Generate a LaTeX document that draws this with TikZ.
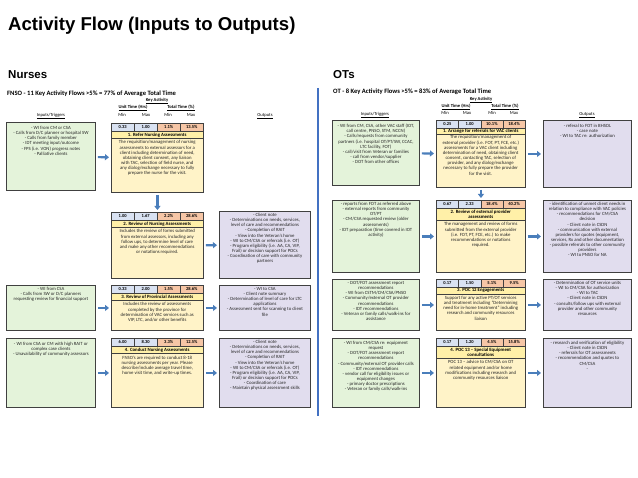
\documentclass[tikz,border=0pt]{standalone}
\usepackage{fontspec}
\setmainfont{Carlito}
\newfontfamily\ttlfont{Liberation Sans}
\usetikzlibrary{arrows.meta,calc}
\definecolor{inG}{HTML}{E4F3DA}
\definecolor{actY}{HTML}{FFF3C8}
\definecolor{ttlY}{HTML}{FFF0A8}
\definecolor{outP}{HTML}{E1DDEE}
\definecolor{cellB}{HTML}{D9E2F2}
\definecolor{cellO}{HTML}{F6C6A6}
\definecolor{bd}{HTML}{404040}
\definecolor{arB}{HTML}{4A7EBB}
\tikzset{
 tx/.style={font=\fontsize{4.75}{5.15}\selectfont,align=center,inner sep=0pt,text=black!85},
 inbox/.style={draw=bd,line width=0.9pt,fill=inG,anchor=north west,inner sep=0pt},
 outbox/.style={draw=bd,line width=0.9pt,fill=outP,anchor=north west,inner sep=0pt},
 actbox/.style={draw=bd,line width=0.9pt,fill=actY,anchor=north west,inner sep=0pt},
 cellb/.style={draw=bd,line width=0.5pt,fill=cellB,anchor=north west,inner sep=0pt,minimum height=8pt,font=\fontsize{4.5}{5}\selectfont\bfseries},
 cello/.style={cellb,fill=cellO},
 tbar/.style={draw=bd,line width=0.5pt,fill=ttlY,anchor=north west,inner sep=0pt,font=\fontsize{4.8}{5.4}\selectfont\bfseries,align=center},
 flow/.style={-{Triangle[length=4pt,width=6pt]},line width=2.2pt,draw=arB,shorten >=2pt,shorten <=2pt},
 hd/.style={font=\fontsize{4.6}{5}\selectfont,inner sep=0pt},
 hdu/.style={hd,font=\fontsize{4.6}{5}\selectfont\bfseries},
}
% name, x, y, width, height, n1..n3
\newcommand\act[8]{%
 \node[actbox,minimum width=#4pt,minimum height=#5pt] (#1) at (#2,#3) {};
 \node[cellb,minimum width=#4pt/4] at (#2,#3) {#6};
 \node[cellb,minimum width=#4pt/4] at (#2+#4/4,#3) {#7};
 \node[cello,minimum width=#4pt/4] at (#2+#4/2,#3) {#8};
}
\begin{document}
\begin{tikzpicture}[x=1pt,y=-1pt]
\useasboundingbox[fill=white] (0,0) rectangle (638,478);
\node[anchor=west,inner sep=0pt,font=\ttlfont\fontsize{18.6}{21}\selectfont\bfseries] (title) at (8,26) {Activity Flow (Inputs to Outputs)};
\node[anchor=west,inner sep=0pt,font=\ttlfont\fontsize{11.5}{13}\selectfont\bfseries] (nur) at (8,75) {Nurses};
\node[anchor=west,inner sep=0pt,font=\ttlfont\fontsize{11.5}{13}\selectfont\bfseries] (ots) at (333,75) {OTs};
\draw[draw=arB!90!blue,line width=2pt] (318,88) -- (318,416);
% ---------------- LEFT HEADERS
\node[anchor=west,inner sep=0pt,font=\fontsize{6.6}{7}\selectfont\bfseries] (lh) at (7,94) {FNSO - 11 Key Activity Flows >5\% = 77\% of Average Total Time};
\node[hdu] at (157,101) {\underline{Key Activity}};
\node[hdu] at (133,108) {\underline{Unit Time (Hrs)}};
\node[hdu] at (181,108) {\underline{Total Time (\%)}};
\node[hd] at (122,115) {Min}; \node[hd] at (146,115) {Max};
\node[hd] at (168,115) {Min}; \node[hd] at (191,115) {Max};
\node[hd] at (51,116) {\underline{Inputs/Triggers}};
\node[hd] at (265,116) {\underline{Outputs}};
% row 1
\node[inbox,minimum width=89pt,minimum height=68pt] (li1) at (6,122) {};
\node[tx,anchor=north] at ([yshift=-4pt]li1.north) {- WI from CM or CSA\\- Calls from D/C planner or hospital SW\\- Calls from family member\\- IDT meeting input/outcome\\- FPS (i.e. VON) progress notes\\- Palliative clients};
\act{la1}{111}{123}{92}{69}{0.33}{1.00}{1.1\%}
\node[cello,minimum width=23pt] at (180,123) {13.5\%};
\node[tbar,minimum width=92pt,minimum height=7pt] (la1t) at (111,131) {1. Refer Nursing Assessments};
\node[tx,anchor=north] at ([yshift=-2pt]la1t.south) {The requisition/management of nursing\\assessments to external assessors for a\\client including determination of need,\\obtaining client consent, any liaison\\with TAC, selection of field nurse, and\\any dialog/exchange necessary to fully\\prepare the nurse for the visit.};
% row 2
\act{la2}{111}{212}{92}{66}{1.00}{1.67}{2.2\%}
\node[cello,minimum width=23pt] at (180,212) {28.6\%};
\node[tbar,minimum width=92pt,minimum height=7pt] (la2t) at (111,220) {2. Review of Nursing Assessments};
\node[tx,anchor=north] at ([yshift=-2pt]la2t.south) {Includes the review of forms submitted\\from external assessors, including any\\follow ups, to determine level of care\\and make any other recommendations\\or notations required.};
\node[outbox,minimum width=91pt,minimum height=67pt] (lo2) at (219,211) {};
\node[tx,anchor=north] at ([yshift=-2pt]lo2.north) {- Client note\\- Determinations on needs, services,\\level of care and recommendations\\- Completion of RAIT\\- View into the Veteran's home\\- WI to CM/CSA or referrals (i.e. OT)\\- Program eligibility (i.e. AA, CA, VIP,\\Frail) or decision support for POCs\\- Coordination of care with community\\partners};
% row 3
\node[inbox,minimum width=89pt,minimum height=45pt] (li3) at (6,285) {};
\node[tx,anchor=north] at ([yshift=-2pt]li3.north) {- WI from CSA\\- Calls from SW or D/C planners\\requesting review for financial support};
\act{la3}{111}{285}{92}{45}{0.33}{2.00}{1.5\%}
\node[cello,minimum width=23pt] at (180,285) {28.6\%};
\node[tbar,minimum width=92pt,minimum height=7pt] (la3t) at (111,293) {3. Review of Provincial Assessments};
\node[tx,anchor=north] at ([yshift=-2pt]la3t.south) {Includes the review of assessments\\completed by the province for\\determination of VAC services such as\\VIP, LTC, and/or other benefits};
\node[outbox,minimum width=91pt,minimum height=45pt] (lo3) at (219,285) {};
\node[tx,anchor=north] at ([yshift=-2pt]lo3.north) {- WI to CSA\\- Client note summary\\- Determination of level of care for LTC\\applications\\- Assessment sent for scanning to client\\file};
% row 4
\node[inbox,minimum width=89pt,minimum height=69pt] (li4) at (6,338) {};
\node[tx,anchor=north] at ([yshift=-4pt]li4.north) {- WI from CSA or CM with high RAIT or\\complex case clients\\- Unavailability of community assessors};
\act{la4}{111}{338}{92}{69}{6.00}{8.30}{3.3\%}
\node[cello,minimum width=23pt] at (180,338) {12.5\%};
\node[tbar,minimum width=92pt,minimum height=7pt] (la4t) at (111,346) {4. Conduct Nursing Assessments};
\node[tx,anchor=north] at ([yshift=-2pt]la4t.south) {FNSO's are required to conduct 8-18\\nursing assessments per year. Please\\describe/include average travel time,\\home visit time, and write-up times.};
\node[outbox,minimum width=91pt,minimum height=69pt] (lo4) at (219,338) {};
\node[tx,anchor=north] at ([yshift=-2pt]lo4.north) {- Client note\\- Determinations on needs, services,\\level of care and recommendations\\- Completion of RAIT\\- View into the Veteran's home\\- WI to CM/CSA or referrals (i.e. OT)\\- Program eligibility (i.e. AA, CA, VIP,\\Frail) or decision support for POCs\\- Coordination of care\\- Maintain physical assessment skills};
% left arrows
\draw[flow] (li1) -- (la1);
\draw[flow] (la1) -- (la2);
\draw[flow] (la2) -- (lo2);
\draw[flow] (li3) -- (la3);
\draw[flow] (la3) -- (lo3);
\draw[flow] (li4) -- (la4);
\draw[flow] (la4) -- (lo4);
% ---------------- RIGHT HEADERS
\node[anchor=west,inner sep=0pt,font=\fontsize{6.6}{7}\selectfont\bfseries] (rh) at (333,92) {OT - 8 Key Activity Flows >5\% = 83\% of Average Total Time};
\node[hdu] at (481,100) {\underline{Key Activity}};
\node[hdu] at (456,107) {\underline{Unit Time (Hrs)}};
\node[hdu] at (505,107) {\underline{Total Time (\%)}};
\node[hd] at (445,113) {Min}; \node[hd] at (467,113) {Max};
\node[hd] at (492,113) {Min}; \node[hd] at (514,113) {Max};
\node[hd] at (375,115) {\underline{Inputs/Triggers}};
\node[hd] at (587,115) {\underline{Outputs}};
% row 1
\node[inbox,minimum width=87pt,minimum height=65pt] (ri1) at (332,120) {};
\node[tx,anchor=north] at ([yshift=-4pt]ri1.north) {- WI from CM, CSA, other VAC staff (IOT,\\call centre, PNSO, STM, NCCN)\\- Calls/requests from community\\partners (i.e. hospital OT/PT/SW, CCAC,\\LTC facility, FOT)\\- call/visit from Veteran or families\\- call from vendor/supplier\\- DOT from other offices};
\act{ra1}{436}{120}{89}{67}{0.25}{1.00}{10.1\%}
\node[cello,minimum width=22.25pt] at (502.75,120) {18.4\%};
\node[tbar,minimum width=89pt,minimum height=6.5pt] (ra1t) at (436,128) {1. Arrange for referrals for VAC clients};
\node[tx,anchor=north] at ([yshift=-0.5pt]ra1t.south) {The requisition/management of\\external provider (i.e. FOT, PT, FCE, etc.)\\assessments for a VAC client including\\determination of need, obtaining client\\consent, contacting TAC, selection of\\provider, and any dialog/exchange\\necessary to fully prepare the provider\\for the visit.};
\node[outbox,minimum width=88pt,minimum height=67pt] (ro1) at (543,120) {};
\node[tx,anchor=north] at ([yshift=-4pt]ro1.north) {- referal to FOT in BHSOL\\- case note\\- WI to TAC re: authorization};
% row 2
\node[inbox,minimum width=87pt,minimum height=72pt] (ri2) at (332,200) {};
\node[tx,anchor=north] at ([yshift=-2pt]ri2.north) {- reports from FOT as referred above\\- external reports from community\\OT/PT\\- CM/CSA requested review (older\\assessments)\\- IDT preparation (time covered in IOT\\activity)};
\act{ra2}{436}{200}{89}{72}{0.67}{2.33}{18.4\%}
\node[cello,minimum width=22.25pt] at (502.75,200) {40.2\%};
\node[tbar,minimum width=89pt,minimum height=12pt] (ra2t) at (436,208) {2. Review of external provider\\assessments};
\node[tx,anchor=north] at ([yshift=-2pt]ra2t.south) {The management and review of forms\\submitted from the external provider\\(i.e. FOT, PT, FCE, etc.) to make\\recommendations or notations\\required.};
\node[outbox,minimum width=88pt,minimum height=72pt] (ro2) at (543,200) {};
\node[tx,anchor=north] at ([yshift=-2pt]ro2.north) {- identification of unmet client needs in\\relation to compliance with VAC policies\\- recommendations for CM/CSA\\decision\\- Client note in CSDN\\- communication with external\\providers for quotes (equipment,\\services, Rx and other documentation\\- possible referrals to other community\\providers\\- WI to PNSO for NA};
% row 3
\node[inbox,minimum width=87pt,minimum height=51pt] (ri3) at (332,279) {};
\node[tx,anchor=north] at ([yshift=-2pt]ri3.north) {- DOT/FOT assessment report\\recommendations\\- WI from CSTM/CM/CSA/PNSO\\- Community/external OT provider\\recommendations\\- IDT recommendations\\- Veteran or family calls/walk-ins for\\assistance};
\act{ra3}{436}{279}{89}{51}{0.17}{1.50}{5.1\%}
\node[cello,minimum width=22.25pt] at (502.75,279) {9.5\%};
\node[tbar,minimum width=89pt,minimum height=7pt] (ra3t) at (436,287) {3. POC 12 Engagements};
\node[tx,anchor=north] at ([yshift=-1.5pt]ra3t.south) {Support for any active PT/OT services\\and treatment including ``Determining\\need for in-home treatment'' including\\research and community resources\\liaison};
\node[outbox,minimum width=88pt,minimum height=51pt] (ro3) at (543,279) {};
\node[tx,anchor=north] at ([yshift=-2pt]ro3.north) {- Determination of OT service units\\- WI to CM/CSA for authorization\\- WI to TAC\\- Client note in CSDN\\- consults/follow ups with external\\provider and other community\\resources};
% row 4
\node[inbox,minimum width=87pt,minimum height=69pt] (ri4) at (332,338) {};
\node[tx,anchor=north] at ([yshift=-3pt]ri4.north) {- WI from CM/CSA re: equipment\\request\\- DOT/FOT assessment report\\recommendations\\- Community/external OT provider calls\\- IDT recommendations\\- vendor call for eligibility issues or\\equipment changes\\- primary doctor prescriptions\\- Veteran or family calls/walk-ins};
\act{ra4}{436}{338}{89}{69}{0.17}{1.20}{4.5\%}
\node[cello,minimum width=22.25pt] at (502.75,338) {15.8\%};
\node[tbar,minimum width=89pt,minimum height=12pt] (ra4t) at (436,346) {4. POC 13 -- Special Equipment\\consultations};
\node[tx,anchor=north] at ([yshift=-2pt]ra4t.south) {POC 13 -- advice to CM/CSA on OT\\related equipment and/or home\\modifications including research and\\community resources liaison};
\node[outbox,minimum width=88pt,minimum height=69pt] (ro4) at (543,338) {};
\node[tx,anchor=north] at ([yshift=-3pt]ro4.north) {- research and verification of eligibility\\- Client note in CSDN\\- referrals for OT assessments\\- recommendation and quotes to\\CM/CSA\\-};
% right arrows
\draw[flow] (ri1) -- (ra1);
\draw[flow] (ra1) -- (ro1);
\draw[flow] (ra1) -- (ra2);
\draw[flow] (ri2) -- (ra2);
\draw[flow] (ra2) -- (ro2);
\draw[flow] (ri3) -- (ra3);
\draw[flow] (ra3) -- (ro3);
\draw[flow] (ri4) -- (ra4);
\draw[flow] (ra4) -- (ro4);
\end{tikzpicture}
\end{document}
